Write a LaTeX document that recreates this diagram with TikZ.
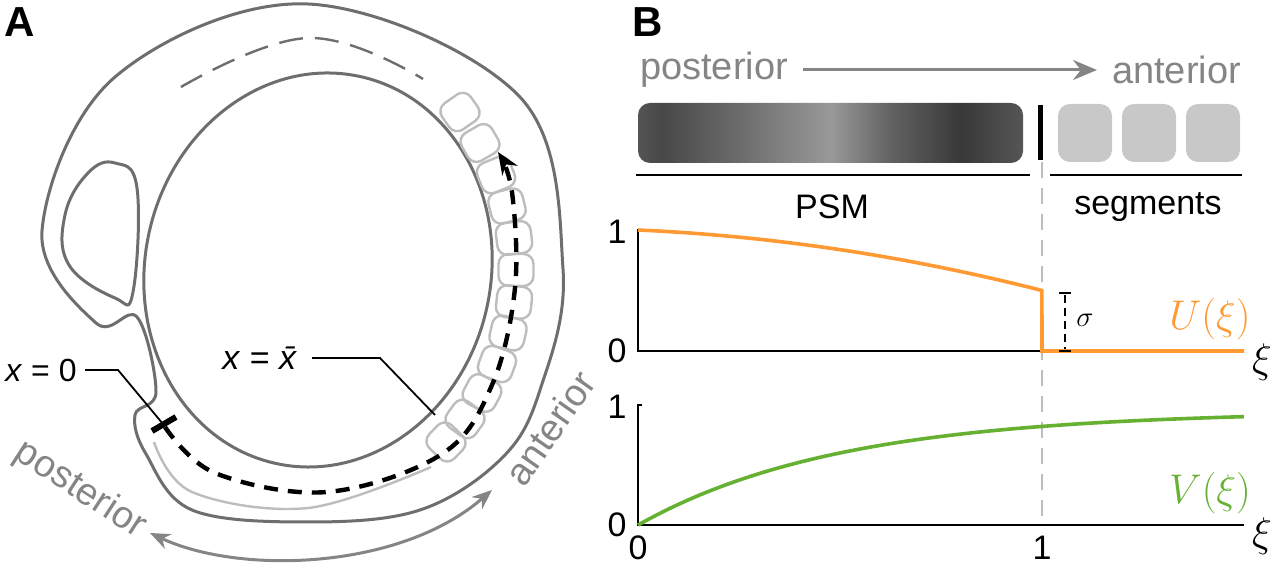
\documentclass[tikz,border=0pt]{standalone}
\usepackage{fontspec}
\setmainfont{Liberation Sans}
\usetikzlibrary{arrows.meta,calc}
\definecolor{og}{HTML}{6E6E6E}
\definecolor{lg}{HTML}{BDBDBD}
\definecolor{tg}{HTML}{858585}
\definecolor{orng}{HTML}{FF9933}
\definecolor{grn}{HTML}{66B032}
\definecolor{seg}{HTML}{C8C8C8}
\pgfdeclarehorizontalshading{psm}{100bp}{color(0bp)=(black!70); color(10bp)=(black!78); color(20bp)=(black!58); color(28bp)=(black!72); color(38bp)=(black!58); color(50bp)=(black!40); color(58bp)=(black!62); color(67bp)=(black!78); color(78bp)=(black!62); color(90bp)=(black!52); color(100bp)=(black!48)}
\begin{document}
\begin{tikzpicture}[x=0.5pt,y=-0.5pt,
  outl/.style={draw=og,line width=1.5pt},
  big/.style={font=\fontsize{19}{19}\selectfont},
  mid/.style={font=\fontsize{17}{17}\selectfont},
  tick/.style={font=\fontsize{17}{17}\selectfont},
  somite/.style={draw=lg,line width=1.2pt,rounded corners=5pt,minimum width=17.5pt,minimum height=16pt,inner sep=0pt},
  ax/.style={line width=1pt}]
\useasboundingbox (0,0) rectangle (1270,565);
% ---------- Panel A ----------
\node[font=\fontsize{21}{21}\selectfont\bfseries] (A) at (20,22) {A};
\draw[outl] plot[smooth cycle,tension=0.6] coordinates {(156,392) (137,317) (96,323) (42,231) (115,77) (308,4) (519,96) (563,269) (540,390) (502,458) (420,510) (308,522) (192,510) (146,454) (135,415)};
\draw[outl] (318,270) ellipse [x radius=173, y radius=198, rotate=-12];
\draw[outl] plot[smooth cycle,tension=0.7] coordinates {(115,163) (137,188) (133,292) (115,298) (69,265) (65,215) (88,173)};
\draw[draw=og,line width=1.2pt,dash pattern=on 12pt off 6pt] plot[smooth,tension=0.7] coordinates {(181,87) (308,38) (423,79)};
\draw[draw=lg,line width=1.2pt] plot[smooth,tension=0.6] coordinates {(154,442) (192,492) (308,508) (431,467)};
\foreach \p/\r in {{(460,112)}/35,{(480,143)}/30,{(496,175)}/22,{(507,206)}/14,{(514,238)}/7,{(516,270)}/0,{(514,302)}/-6,{(508,333)}/-13,{(497,364)}/-20,{(482,393)}/-28,{(465,419)}/-36,{(446,442)}/-44}
  \node[somite,rotate=\r] at \p {};
\draw[line width=2.2pt,dash pattern=on 7pt off 5pt,-{Stealth[length=11pt,width=9pt]}] plot[smooth,tension=0.6] coordinates {(165,427) (215,473) (327,492) (442,454) (492,385) (515,288) (512,192) (498,152)};
\coordinate (t1) at (152,431); \coordinate (t2) at (176,417);
\draw[line width=3pt] (t1) -- (t2);
\node[font=\fontsize{16}{16}\selectfont,anchor=west,inner sep=1pt] (x0) at (3,370) {\textit{x} = 0};
\coordinate (x0b) at (118,370); \coordinate (x0c) at (163,424);
\draw[line width=0.9pt] (x0.east) ++(6,0) -- (x0b) -- (x0c);
\node[mid,anchor=east] (xb) at (308,358) {\textit{x} = \textit{\=x}};
\coordinate (xbb) at (380,358); \coordinate (xbc) at (435,415);
\draw[line width=0.9pt] (xb.east) ++(4,0) -- (xbb) -- (xbc);
\coordinate (pa) at (150,533); \coordinate (aa) at (492,490);
\draw[draw=tg,line width=1.5pt,{Stealth[length=10pt,width=8pt]}-{Stealth[length=10pt,width=8pt]}] (pa) .. controls (240,575) and (400,570) .. (aa);
\node[big,text=tg,rotate=-33] (pl) at (80,490) {posterior};
\node[big,text=tg,rotate=55] (al) at (550,428) {anterior};
% ---------- Panel B ----------
\node[font=\fontsize{21}{21}\selectfont\bfseries] (B) at (648,22) {B};
\node[big,text=tg,anchor=west] (pB) at (633,70) {posterior};
\node[big,text=tg,anchor=east] (aB) at (1248,70) {anterior};
\draw[draw=tg,line width=1.5pt,-{Stealth[length=12pt,width=10pt]}] ($(pB.east)+(8,0)$) -- ($(aB.west)+(-8,0)$);
\shade[shading=psm,rounded corners=6pt] (638,103) rectangle (1023,163);
\draw[line width=2.5pt] (1040,105) -- (1040,160);
\foreach \a in {1058,1122,1186} \fill[seg,rounded corners=6pt] (\a,104) rectangle ++(54,58);
\draw[line width=1pt] (636,175) -- (1030,175);
\draw[line width=1pt] (1050,175) -- (1242,175);
\node[mid] (psm) at (832,207) {PSM};
\node[mid] (sg) at (1148,207) {segments};
% dashed divider
\draw[draw=lg,line width=1.2pt,dash pattern=on 8pt off 5pt] (1042,162) -- (1042,525);
% top plot
\draw[ax] (642,230) -- (638,230) -- (638,351) -- (1042,351);
\draw[orng,line width=1.8pt] plot[domain=0:1,samples=40] ({638+404*\x},{351-121*(1-0.15*\x-0.35*\x*\x)}) -- (1042,351) -- (1244,351);
\draw[line width=1.1pt,dash pattern=on 4pt off 2.5pt] (1065,295) -- (1065,349);
\draw[line width=1.1pt] (1059,293) -- (1071,293) (1059,351) -- (1071,351);
\node[font=\fontsize{15}{15}\selectfont] (sig) at (1085,320) {$\sigma$};
\node[text=orng,font=\fontsize{21}{21}\selectfont] (U) at (1210,319) {$U(\xi)$};
\node[font=\fontsize{21}{21}\selectfont] (xi1) at (1262,362) {$\xi$};
\node[tick] (one1) at (617,232) {1};
\node[tick] (zero1) at (617,351) {0};
% bottom plot
\draw[ax] (642,405) -- (638,405) -- (638,525) -- (1244,525);
\draw[grn,line width=1.8pt] plot[domain=0:1.5,samples=50] ({638+404*\x},{525-120*0.95*(1-exp(-2*\x))});
\node[text=grn,font=\fontsize{21}{21}\selectfont] (V) at (1210,493) {$V(\xi)$};
\node[font=\fontsize{21}{21}\selectfont] (xi2) at (1262,536) {$\xi$};
\node[tick] (one2) at (617,407) {1};
\node[tick] (zero2) at (617,525) {0};
\node[tick] (zx) at (638,548) {0};
\node[tick] (ox) at (1042,548) {1};
\end{tikzpicture}
\end{document}
